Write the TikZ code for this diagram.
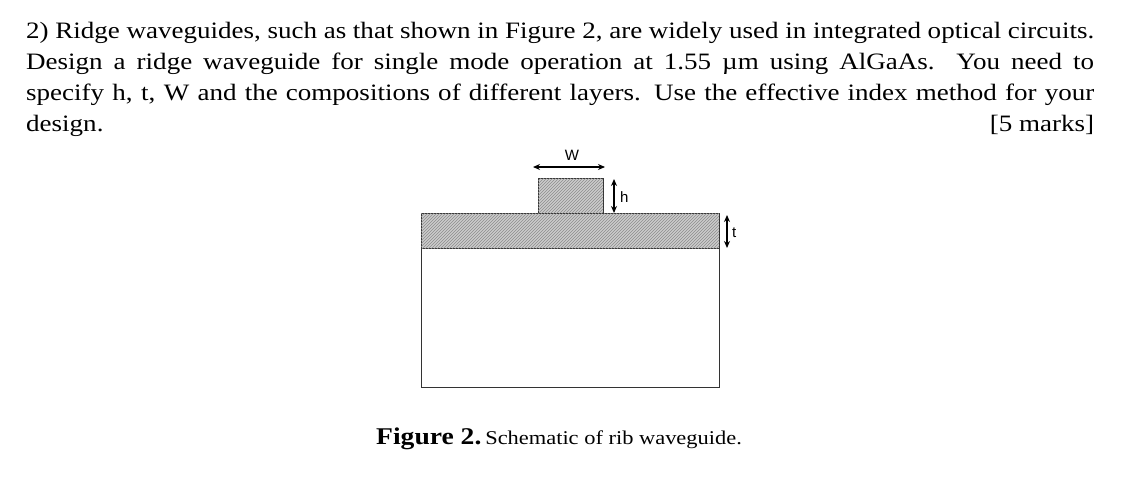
\documentclass[tikz,border=0pt]{standalone}
\usepackage{fontspec}
\setmainfont[FakeStretch=1.15]{Liberation Serif}
\setsansfont{Liberation Sans}
\usetikzlibrary{patterns,arrows.meta}
\begin{document}
\begin{tikzpicture}[x=1pt,y=-1pt,
  layer/.style={draw=black!80, line width=0.8pt, fill=gray!40, postaction={pattern=north east lines, pattern color=gray!90}},
  dim/.style={{Stealth[length=7pt,width=6pt]}-{Stealth[length=7pt,width=6pt]}, line width=1.4pt},
  lbl/.style={font=\sffamily\fontsize{15}{15}\selectfont, inner sep=0pt}]
\useasboundingbox (0,0) rectangle (1133,488);
\node[anchor=north west, text width=1068pt, align=justify, inner sep=0pt, font=\fontsize{23.5}{31}\selectfont] (q) at (26,22)
 {2) Ridge waveguides, such as that shown in Figure 2, are widely used in integrated optical circuits.\linebreak Design a ridge waveguide for single mode operation at 1.55 µm using AlGaAs. You need to\linebreak specify h, t, W and the compositions of different layers. Use the effective index method for your\linebreak design.\hfill[5 marks]};
\draw[draw=black!80, line width=0.8pt] (421,248) rectangle (719,387);
\path[layer] (421,213) rectangle (719,248);
\path[layer] (538,178) rectangle (603,213);
\coordinate (wl) at (533,167); \coordinate (wr) at (605,167);
\draw[dim] (wl) -- (wr);
\node[lbl] (w) at (572,155) {W};
\coordinate (ht) at (614,179); \coordinate (hb) at (614,213);
\draw[dim] (ht) -- (hb);
\node[lbl, anchor=west] (h) at (620,197) {h};
\coordinate (tt) at (727,215); \coordinate (tb) at (727,248);
\draw[dim] (tt) -- (tb);
\node[lbl, anchor=west] (t) at (732,233) {t};
\node[inner sep=0pt] (cap) at (559,439) {{\bfseries\fontsize{24}{24}\selectfont Figure 2.} {\fontsize{19.5}{20}\selectfont Schematic of rib waveguide.}};
\end{tikzpicture}
\end{document}
